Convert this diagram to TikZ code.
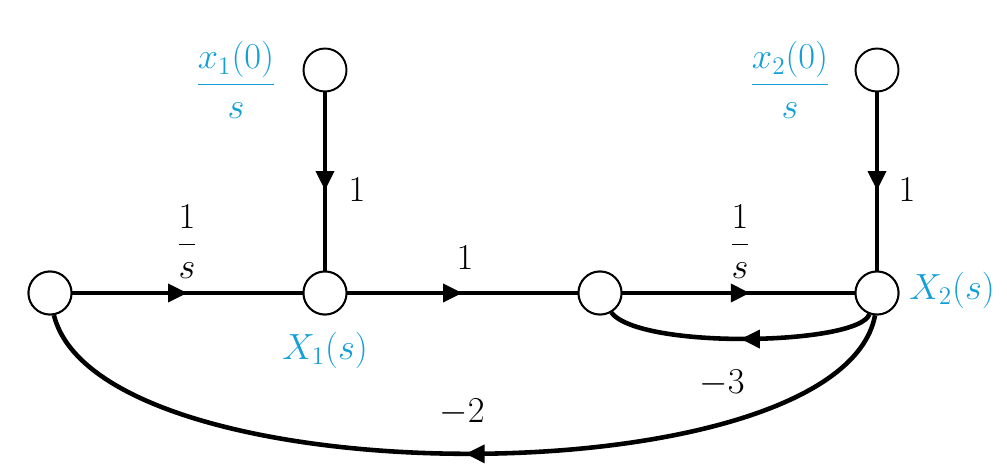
\documentclass[tikz,border=0pt]{standalone}
\usetikzlibrary{decorations.markings,arrows.meta}
\definecolor{lblue}{RGB}{20,160,215}
\begin{document}
\begin{tikzpicture}[x=0.02cm,y=-0.02cm,
  nd/.style={circle,draw,line width=1.1pt,minimum size=0.86cm,inner sep=0pt,fill=white},
  br/.style={line width=2.6pt,postaction={decorate},decoration={markings,mark=at position #1 with {\arrow{Triangle[length=11pt,width=10pt]}}}},
  br/.default=0.55,
  lb/.style={font=\fontsize{20}{24}\selectfont},
  bl/.style={lb,text=lblue}]
\useasboundingbox (0,0) rectangle (1007,476);
\node[nd] (A) at (50,293) {};
\node[nd] (X1) at (325,293) {};
\node[nd] (M) at (600,293) {};
\node[nd] (X2) at (877,293) {};
\node[nd] (T1) at (325,70) {};
\node[nd] (T2) at (877,70) {};
\draw[br=0.5] (A) -- (X1);
\draw[br=0.5] (X1) -- (M);
\draw[br=0.55] (M) -- (X2);
\draw[br=0.55] (T1) -- (X1);
\draw[br=0.55] (T2) -- (X2);
\draw[br=0.5] (X2.-110) .. controls (860,345) and (640,350) .. (M.-60);
\draw[br=0.5] (X2.-95) .. controls (840,500) and (100,500) .. (A.-80);
\node[nd] at (A) {};\node[nd] at (X1) {};\node[nd] at (M) {};\node[nd] at (X2) {};
\node[lb] (l1) at (187,242) {$\displaystyle\frac{1}{s}$};
\node[lb] (l2) at (465,258) {$1$};
\node[lb] (l3) at (740,242) {$\displaystyle\frac{1}{s}$};
\node[lb] (l4) at (357,190) {$1$};
\node[lb] (l5) at (907,190) {$1$};
\node[lb] (l6) at (722,383) {$-3$};
\node[lb] (l7) at (462,412) {$-2$};
\node[bl] (i1) at (236,80) {$\displaystyle\frac{x_1(0)}{s}$};
\node[bl] (i2) at (790,80) {$\displaystyle\frac{x_2(0)}{s}$};
\node[bl] (o1) at (325,350) {$X_1(s)$};
\node[bl] (o2) at (952,290) {$X_2(s)$};
\end{tikzpicture}
\end{document}
